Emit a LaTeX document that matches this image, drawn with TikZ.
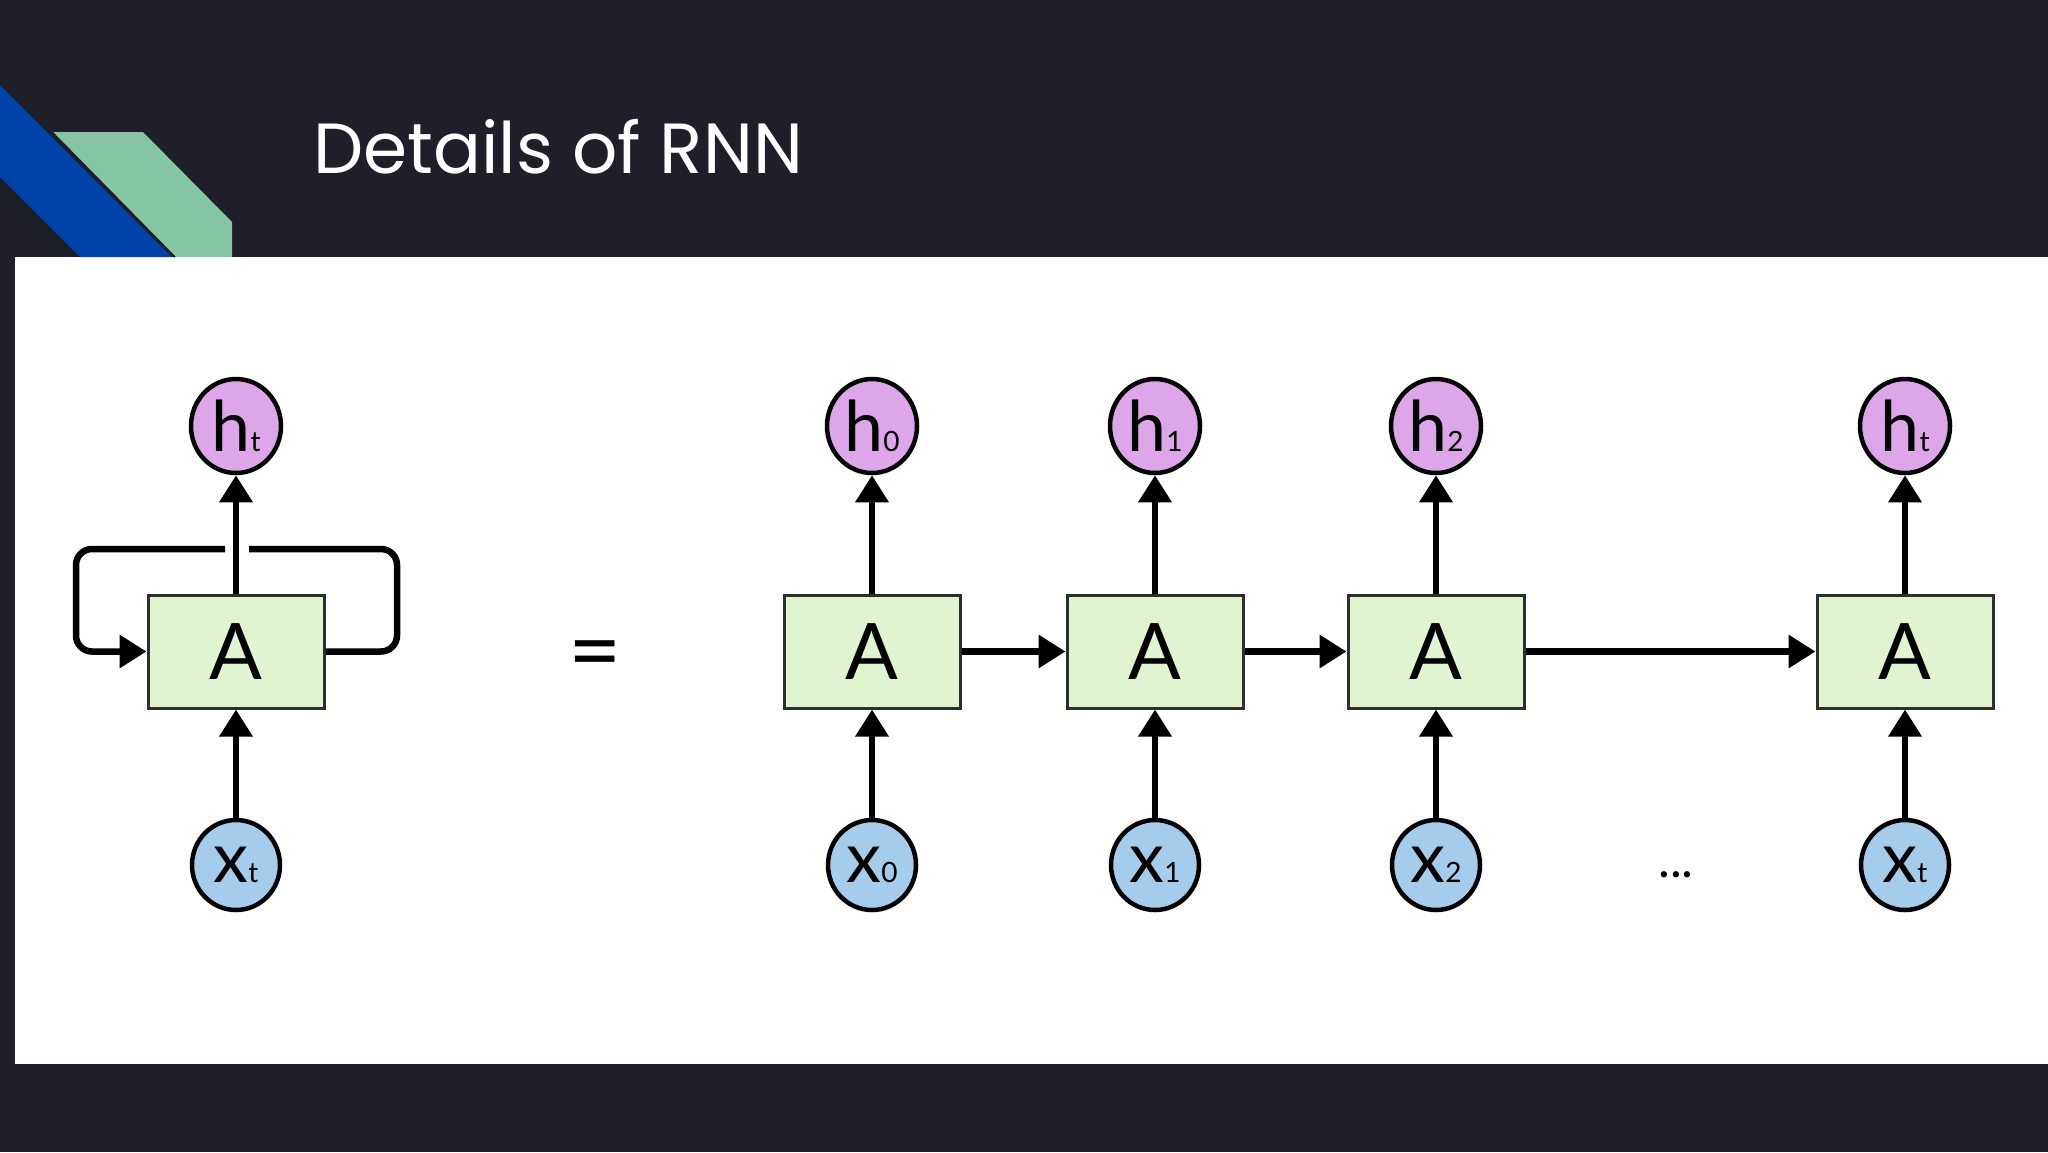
\documentclass[tikz,border=0pt]{standalone}
\usepackage{fontspec}
\newfontfamily\titlefont{Poppins}
\newfontfamily\labelfont{Lato}
\usetikzlibrary{arrows.meta,shapes.geometric}
\definecolor{bgdark}{HTML}{1E1F29}
\definecolor{stripeblue}{HTML}{0043A8}
\definecolor{stripegreen}{HTML}{86C6A4}
\definecolor{hfill}{HTML}{DDA6E9}
\definecolor{xfill}{HTML}{A5CCEA}
\definecolor{boxfill}{HTML}{E0F4CF}
\definecolor{boxedge}{HTML}{2E2E2E}
\tikzset{
  cell/.style={draw=boxedge, fill=boxfill, line width=3pt, minimum width=176pt,
    minimum height=113pt, inner sep=0pt, font=\labelfont\fontsize{78}{80}\selectfont},
  hcirc/.style={ellipse, draw=black, line width=4.5pt, fill=hfill, minimum width=90pt,
    minimum height=94pt, inner sep=0pt, font=\labelfont\fontsize{70}{72}\selectfont},
  xcirc/.style={ellipse, draw=black, line width=4.5pt, fill=xfill, minimum width=88pt,
    minimum height=90pt, inner sep=0pt, font=\labelfont\fontsize{70}{72}\selectfont},
  conn/.style={line width=6.5pt, -{Triangle[length=27pt,width=32pt]}},
  loopline/.style={line width=6.5pt, rounded corners=16pt},
}
\newcommand{\subsc}[1]{{\fontsize{28}{28}\selectfont #1}}
\begin{document}
\begin{tikzpicture}[x=1pt,y=-1pt]
\useasboundingbox (0,0) rectangle (2048,1152);
% background
\fill[bgdark] (0,0) rectangle (2048,1152);
\fill[white] (15,257) rectangle (2048,1064);
% corner stripes
\fill[stripeblue] (0,85) -- (172,257) -- (80,257) -- (0,177) -- cycle;
\fill[stripegreen] (52,132) -- (143,132) -- (232,222) -- (232,257) -- (175,257) -- cycle;
\draw[bgdark, line width=1.5pt] (52,132) -- (175,257);
% title
\node[anchor=base west, inner sep=0pt, text=white, font=\titlefont\fontsize{71}{80}\selectfont]
  (title) at (313,173) {Details of RNN};

% ---- folded RNN ----
\node[cell] (A0) at (236,651.5) {A};
\node[hcirc] (h0f) at (236,426) {h\subsc{t}};
\node[xcirc] (x0f) at (236,865) {x\subsc{t}};
\draw[conn] (A0.north) -- (h0f.south);
\draw[conn] (x0f.north) -- (A0.south);
\coordinate (loopTR) at (397,549);
\coordinate (loopTL) at (76,549);
\coordinate (gapR) at (249,549);
\coordinate (gapL) at (225,549);
\draw[loopline] (A0.east) -| (loopTR) -- (gapR);
\draw[loopline, -{Triangle[length=27pt,width=32pt]}] (gapL) -- (loopTL) |- (A0.west);

% equals
\node[font=\labelfont\fontsize{92}{92}\selectfont, inner sep=0pt] (eq) at (595,662) {=};

% ---- unrolled RNN ----
\node[cell] (A1) at (872,651.5) {A};
\node[cell] (A2) at (1155,651.5) {A};
\node[cell] (A3) at (1436,651.5) {A};
\node[cell] (A4) at (1905,651.5) {A};
\node[hcirc] (h1) at (872,426) {h\subsc{0}};
\node[hcirc] (h2) at (1155,426) {h\subsc{1}};
\node[hcirc] (h3) at (1436,426) {h\subsc{2}};
\node[hcirc] (h4) at (1905,426) {h\subsc{t}};
\node[xcirc] (x1) at (872,865) {x\subsc{0}};
\node[xcirc] (x2) at (1155,865) {x\subsc{1}};
\node[xcirc] (x3) at (1436,865) {x\subsc{2}};
\node[xcirc] (x4) at (1905,865) {x\subsc{t}};
\foreach \i in {1,2,3,4}{
  \draw[conn] (A\i.north) -- (h\i.south);
  \draw[conn] (x\i.north) -- (A\i.south);
}
\draw[conn] (A1.east) -- (A2.west);
\draw[conn] (A2.east) -- (A3.west);
\draw[conn] (A3.east) -- (A4.west);
\node[anchor=base, inner sep=0pt, font=\labelfont\fontsize{50}{50}\selectfont] (dots) at (1676,877) {...};
\end{tikzpicture}
\end{document}
